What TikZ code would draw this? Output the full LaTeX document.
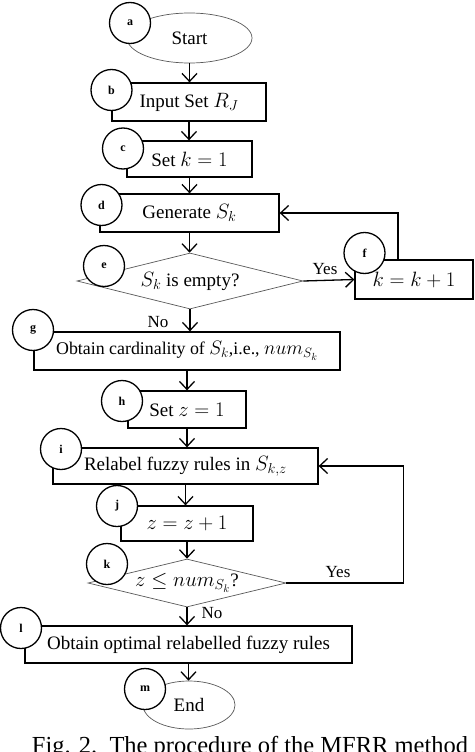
\documentclass[tikz,border=0pt]{standalone}
\usepackage{fontspec}
\setmainfont{Liberation Serif}
\usetikzlibrary{shapes.geometric,arrows.meta}
\newcommand\mth[1]{{\fontsize{21.5}{22}\selectfont$#1$}}
\begin{document}
\begin{tikzpicture}[x=1pt,y=-1pt,
  every node/.style={font=\fontsize{19}{22}\selectfont, inner sep=0pt},
  box/.style={draw=black, line width=1.3pt, fill=white, rectangle},
  term/.style={draw=black!65, line width=0.7pt, fill=white, ellipse},
  dec/.style={draw=black!65, line width=0.7pt, fill=white, diamond},
  tag/.style={draw=black, line width=1.3pt, fill=white, circle, minimum size=41pt, font=\fontsize{12}{14}\selectfont\bfseries},
  arr/.style={draw=black, line width=1.3pt, -{Straight Barb[length=8pt,width=15pt,line width=1.3pt]}},
  lbl/.style={font=\fontsize{17}{20}\selectfont}
]
\useasboundingbox (0,0) rectangle (474,752);
% main shapes
\node[term, minimum width=125pt, minimum height=50pt] (start) at (189.5,38) {Start};
\node[box, minimum width=154pt, minimum height=38pt] (b) at (189,102) {Input Set \mth{R_J}};
\node[box, minimum width=125pt, minimum height=36pt] (c) at (189.5,159) {Set \mth{k=1}};
\node[box, minimum width=179pt, minimum height=38pt] (d) at (189.5,213) {Generate \mth{S_k}};
\node[dec, minimum width=226pt, minimum height=56pt] (e) at (190,281) {};
\node at (e.center) (etext) {\mth{S_k} is empty?};
\node[box, minimum width=118pt, minimum height=39pt] (f) at (414,279.5) {\mth{k=k+1}};
\node[box, minimum width=306pt, minimum height=38pt] (g) at (187,351) {\scalebox{0.94}{Obtain cardinality of \mth{S_k},i.e., \mth{num_{S_k}}}};
\node[box, minimum width=118pt, minimum height=37pt] (h) at (187,409.5) {Set \mth{z=1}};
\node[box, minimum width=265pt, minimum height=36pt] (i) at (185.5,466) {Relabel fuzzy rules in \mth{S_{k,z}}};
\node[box, minimum width=132pt, minimum height=35pt] (j) at (187,523.5) {\mth{z=z+1}};
\node[dec, minimum width=198pt, minimum height=48pt] (k) at (187,583) {};
\node at (k.center) (ktext) {\mth{z\leq num_{S_k}}?};
\node[box, minimum width=327pt, minimum height=37pt] (l) at (188.5,644.5) {Obtain optimal relabelled fuzzy rules};
\node[term, minimum width=92pt, minimum height=48pt] (m) at (189,705) {End};
% connectors
\draw[arr] (start.south) -- (start.south |- b.north);
\draw[arr] (b.south) -- (b.south |- c.north);
\draw[arr] (c.south) -- (c.south |- d.north);
\draw[arr] (d.south) -- (d.south |- e.north);
\draw[arr] (e.east) -- (f.west);
\draw[arr] ([xshift=-16pt]f.north) |- (d.east);
\draw[arr] (e.south) -- (e.south |- g.north);
\draw[arr] (g.south) -- (g.south |- h.north);
\draw[arr] (h.south) -- (h.south |- i.north);
\draw[arr] (i.south) -- (i.south |- j.north);
\draw[arr] (j.south) -- (j.south |- k.north);
\draw[arr] (k.east) -- ++(117pt,0) |- (i.east);
\draw[arr] (k.south) -- (k.south |- l.north);
\draw[arr] (l.south) -- (l.south |- m.north);
% labels
\node[lbl] (yes1) at (325,269) {Yes};
\node[lbl] (no1) at (158,322) {No};
\node[lbl] (yes2) at (338,572) {Yes};
\node[lbl] (no2) at (212,613) {No};
% tag circles
\node[tag] (ta) at (130,23) {a};
\node[tag] (tb) at (111.5,90) {b};
\node[tag] (tc) at (123,148.5) {c};
\node[tag] (td) at (101.5,205) {d};
\node[tag] (te) at (104,266) {e};
\node[tag] (tf) at (364.5,253) {f};
\node[tag] (tg) at (33,330) {g};
\node[tag] (th) at (122,401) {h};
\node[tag] (ti) at (61,449) {i};
\node[tag] (tj) at (117,506) {j};
\node[tag] (tk) at (107,564) {k};
\node[tag] (tl) at (21,628) {l};
\node[tag] (tm) at (145,689) {m};
% caption
\node[font=\fontsize{24.5}{28}\selectfont, anchor=base] (cap) at (250,753) {Fig. 2.\ \ The procedure of the MFRR method};
\end{tikzpicture}
\end{document}
